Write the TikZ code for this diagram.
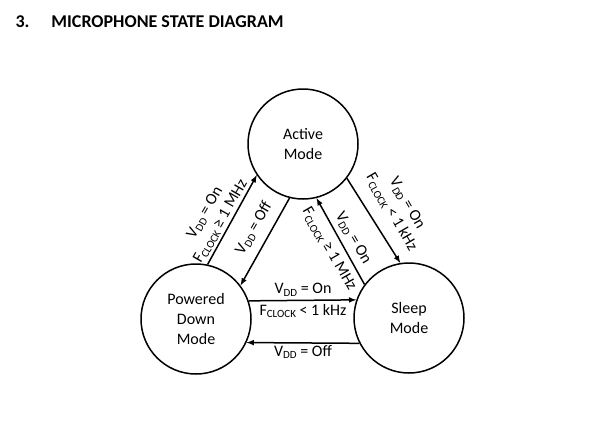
\documentclass[tikz,border=0pt]{standalone}
\usepackage{fontspec}
\setmainfont{Carlito}
\newcommand{\lsub}[1]{\raisebox{-0.35ex}{\fontsize{11}{11}\selectfont #1}}
\begin{document}
\begin{tikzpicture}[x=1pt,y=-1pt,
  st/.style={circle,draw,line width=1.5pt,minimum size=110pt,inner sep=0pt,align=center,font=\fontsize{16}{20}\selectfont},
  ar/.style={-latex,line width=1.5pt},
  lb/.style={font=\fontsize{16}{18}\selectfont,align=center,inner sep=1pt}]
\useasboundingbox (0,0) rectangle (612,426);
\node[anchor=west,font=\fontsize{18}{20}\selectfont\bfseries] (t) at (12,22) {3.\hspace{22pt}MICROPHONE STATE DIAGRAM};
\node[st] (act) at (303,144) {Active\\Mode};
\node[st] (pd) at (196,319) {Powered\\Down\\Mode};
\node[st] (sl) at (409,318) {Sleep\\Mode};
\draw[ar] (pd.78) -- (act.214);
\draw[ar] (act.256) -- (pd.37);
\draw[ar] (act.322) -- (sl.99);
\draw[ar] (sl.143) -- (act.284);
\draw[ar] (pd.19) -- (sl.161);
\draw[ar] (sl.207) -- (pd.335);
\node[lb,rotate=60] (l1) at (213,217) {V\lsub{DD} = On\\F\lsub{CLOCK} ≥ 1 MHz};
\node[lb,rotate=60] (l2) at (254,228) {V\lsub{DD} = Off};
\node[lb,rotate=-60] (l3) at (399,208) {V\lsub{DD} = On\\F\lsub{CLOCK} < 1 kHz};
\node[lb,rotate=-60] (l4a) at (353,238) {V\lsub{DD} = On};
\node[lb,rotate=-60] (l4b) at (329,249) {F\lsub{CLOCK} ≥ 1 MHz};
\node[lb] (l5) at (303,290) {V\lsub{DD} = On};
\node[lb] (l6) at (303,311) {F\lsub{CLOCK} < 1 kHz};
\node[lb] (l7) at (303,352) {V\lsub{DD} = Off};
\end{tikzpicture}
\end{document}
